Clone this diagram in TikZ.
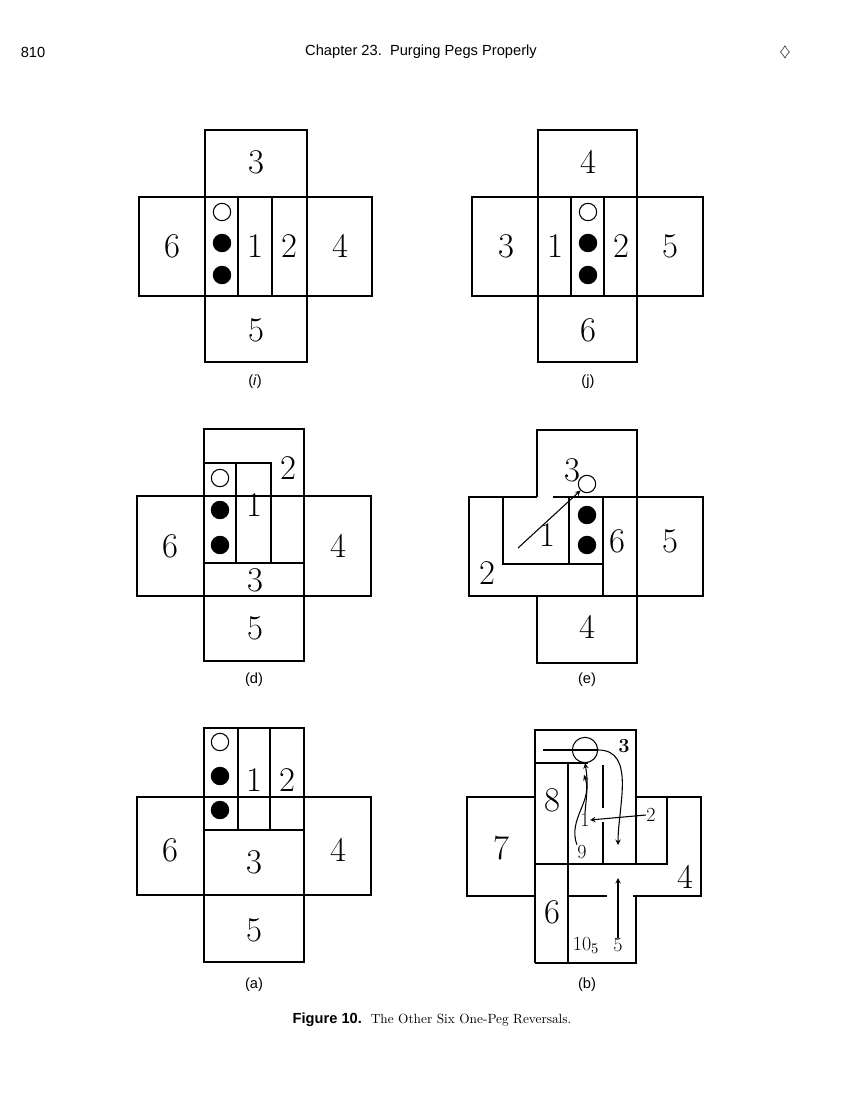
\documentclass[tikz,border=0pt]{standalone}
\usepackage{fontspec}
\newfontfamily\headfont{Liberation Sans}
\usetikzlibrary{positioning}
\tikzset{
  num/.style={font=\fontsize{26}{26}\selectfont, inner sep=0pt},
  smallnum/.style={font=\fontsize{15}{15}\selectfont, inner sep=0pt},
  peg/.style={circle, draw, fill=black, minimum size=13pt, inner sep=0pt},
  hole/.style={circle, draw, thick, minimum size=13pt, inner sep=0pt},
  sub/.style={font=\headfont\fontsize{11}{11}\selectfont},
}
\begin{document}
\begin{tikzpicture}[x=0.75pt,y=-0.75pt,>=stealth,line width=0.8pt]
        \useasboundingbox (0,0) rectangle (848,1094);
        % Header
        \node[sub] (pg) at (33,52) {810};
        \node[sub] (chap) at (421,52) {Chapter 23.\ \ Purging Pegs Properly};
        \node[sub] (dia) at (785,52) {$\diamondsuit$};

        % (i)
        \draw (205,130) rectangle (307,197); % top
        \draw (139,197) rectangle (372,296); % middle row
        \draw (205,296) rectangle (307,362); % bottom
        \draw (205,197) -- (205,296) (238,197) -- (238,296) (272,197) -- (272,296) (307,197) -- (307,296);
        \node[num] (i3) at (256,162) {3};
        \node[num] (i6) at (172,246) {6};
        \node[num] (i1) at (255,246) {1};
        \node[num] (i2) at (289,246) {2};
        \node[num] (i4) at (340,246) {4};
        \node[num] (i5) at (256,330) {5};
        \node[hole] (ih) at (222,212) {};
        \node[peg] (ia) at (222,243) {};
        \node[peg] (ib) at (222,275) {};
        \node[sub] (li) at (255,382) {(\textit{i})};

        % (j)
        \draw (538,130) rectangle (637,197);
        \draw (472,197) rectangle (703,296);
        \draw (538,296) rectangle (637,362);
        \draw (538,197) -- (538,296) (571,197) -- (571,296) (604,197) -- (604,296) (637,197) -- (637,296);
        \node[num] (j4) at (588,162) {4};
        \node[num] (j3) at (506,246) {3};
        \node[num] (j1) at (555,246) {1};
        \node[num] (j2) at (621,246) {2};
        \node[num] (j5) at (670,246) {5};
        \node[num] (j6) at (588,330) {6};
        \node[hole] (jh) at (588,212) {};
        \node[peg] (ja) at (588,243) {};
        \node[peg] (jb) at (588,275) {};
        \node[sub] (lj) at (588,382) {(j)};

        % (d)
        \draw (204,429) rectangle (304,496);
        \draw (137,496) rectangle (371,596);
        \draw (204,596) rectangle (304,661);
        \draw (204,429) -- (204,596) (304,429) -- (304,596);
        \draw (204,463) rectangle (271,563);
        \draw (236,463) -- (236,563);
        \draw (204,563) -- (304,563);
        \node[num] (d2) at (288,468) {2};
        \node[num] (d1) at (254,505) {1};
        \node[num] (d3) at (255,580) {3};
        \node[num] (d6) at (170,546) {6};
        \node[num] (d4) at (338,546) {4};
        \node[num] (d5) at (255,628) {5};
        \node[hole] (dh) at (220,478) {};
        \node[peg] (da) at (220,510) {};
        \node[peg] (db) at (220,545) {};
        \node[sub] (ld) at (254,680) {(d)};

        % (e)
        \draw (537,497) -- (537,430) -- (637,430) -- (637,497);
        \draw (553,497) -- (703,497) -- (703,596) -- (469,596) -- (469,497) -- (537,497);
        \draw (537,596) rectangle (637,663);
        \draw (637,497) -- (637,596);
        \draw (603,497) -- (603,596);
        \draw (503,497) -- (503,564) -- (603,564);
        \draw (569,497) -- (569,564);
        \node[num] (e3) at (572,470) {3};
        \node[hole] (eh) at (587,484) {};
        \node[peg] (ea) at (587,515) {};
        \node[peg] (eb) at (587,545) {};
        \node[num] (e1) at (547,535) {1};
        \node[num] (e6) at (617,541) {6};
        \node[num] (e5) at (670,541) {5};
        \node[num] (e2) at (487,573) {2};
        \node[num] (e4) at (587,627) {4};
        \coordinate (efrom) at (518,548);
        \draw[->] (efrom) -- (eh.south west);
        \node[sub] (le) at (587,680) {(e)};

        % (a)
        \draw (204,728) rectangle (304,797);
        \draw (137,797) rectangle (371,895);
        \draw (204,895) rectangle (304,962);
        \draw (204,797) -- (204,895) (304,797) -- (304,895);
        \draw (238,728) -- (238,830) (270,728) -- (270,830) (204,830) -- (304,830);
        \node[num] (a1) at (254,780) {1};
        \node[num] (a2) at (287,780) {2};
        \node[num] (a3) at (254,862) {3};
        \node[num] (a6) at (170,850) {6};
        \node[num] (a4) at (338,850) {4};
        \node[num] (a5) at (254,930) {5};
        \node[hole] (ah) at (220,742) {};
        \node[peg] (aa) at (220,776) {};
        \node[peg] (ab) at (220,810) {};
        \node[sub] (la) at (254,985) {(a)};

        % (b)
        \draw (535,963) -- (535,730) -- (636,730) -- (636,864);
        \draw (467,797) rectangle (535,896);
        \draw (636,797) -- (701,797) -- (701,896) -- (633,896);
        \draw (607,896) -- (568,896);
        \draw (535,963) -- (636,963) -- (636,896);
        \draw (535,763) -- (588,763);
        \draw (568,763) -- (568,963);
        \draw (535,864) -- (667,864) -- (667,797);
        \draw (603,765) -- (603,808) (603,822) -- (603,864);
        \draw (543,750) -- (573,750);
        \node[circle,draw,thick,minimum size=19pt,inner sep=0pt] (bh) at (585,750) {};
        \draw (bh.west) -- (bh.east);
        \node[smallnum,font=\bfseries\fontsize{15}{15}\selectfont] (b3) at (624,746) {3};
        \node[num] (b8) at (552,800) {8};
        \node[num] (b7) at (501,848) {7};
        \node[num] (b6) at (552,912) {6};
        \node[num] (b4) at (685,877) {4};
        \node[smallnum] (b1) at (585,820) {1};
        \node[smallnum] (b2) at (651,815) {2};
        \node[smallnum] (b9) at (582,852) {9};
        \node[smallnum] (b10) at (586,945) {10$_5$};
        \node[smallnum] (b5) at (618,945) {5};
        \coordinate (bdown) at (618,845);
        \coordinate (bup) at (618,878);
        \draw[->] (bh.east) to[out=0,in=90] (bdown);
        \draw[->] (b2.west) -- (b1.east);
        \draw[->] (b1.north) to[out=85,in=-80] (bh.south);
        \draw[->] (b9.north west) to[out=110,in=-70] (584,775);
        \draw[->] (b5.north) -- (bup);
        \node[sub] (lb) at (587,985) {(b)};

        % Caption
        \node (cap) at (432,1020) {{\headfont\bfseries\fontsize{11}{11}\selectfont Figure 10.}\ \ The Other Six One-Peg Reversals.};
    \end{tikzpicture}
\end{document}
